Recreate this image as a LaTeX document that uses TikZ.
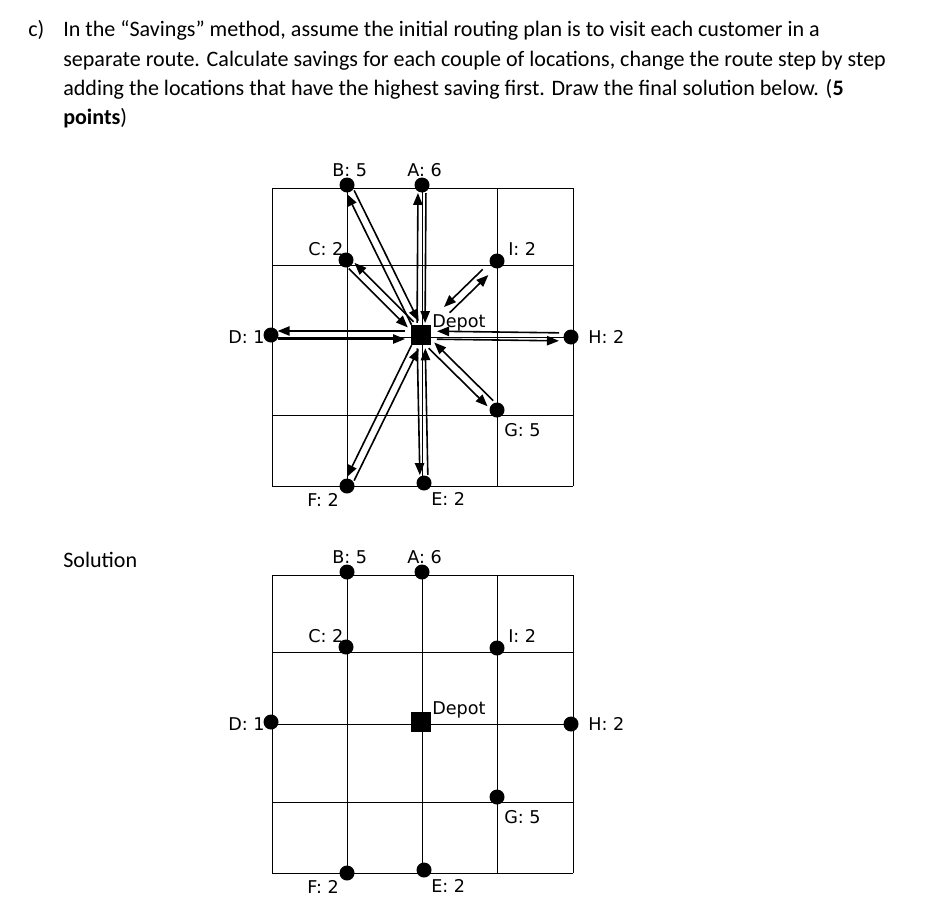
\documentclass[tikz,border=0pt]{standalone}
\usepackage{fontspec}
\setmainfont{Carlito}
\newfontfamily\lblfont{DejaVu Sans}
\usetikzlibrary{calc,arrows.meta}
\newcommand\drawmap[1]{%
  \draw[gridline] (272,575) -- (272,873) (347,575) -- (347,873) (422,575) -- (422,873)
                  (497,575) -- (497,873) (573,575) -- (573,873)
                  (272,575) -- (573,575) (272,652) -- (573,652) (272,724) -- (573,724)
                  (272,802) -- (573,802) (272,873) -- (573,873);
  \node[lbl] (#1lB) at (332,563) {B: 5};
  \node[lbl] (#1lA) at (407,563) {A: 6};
  \node[lbl] (#1lC) at (308,642) {C: 2};
  \node[lbl] (#1lI) at (508,642) {I: 2};
  \node[lbl] (#1lDep) at (432,714) {Depot};
  \node[lbl] (#1lH) at (588,730) {H: 2};
  \node[lbl] (#1lG) at (504,823) {G: 5};
  \node[lbl] (#1lF) at (307,893) {F: 2};
  \node[lbl] (#1lE) at (431,892) {E: 2};
  \node[lbl] (#1lD) at (228,730) {D: 1};
  \node[cust] (#1B) at (347,572) {};
  \node[cust] (#1A) at (422,572) {};
  \node[cust] (#1C) at (346,647) {};
  \node[cust] (#1I) at (497,648) {};
  \node[cust] (#1D) at (271,722) {};
  \node[cust] (#1H) at (571,724) {};
  \node[cust] (#1G) at (497,797) {};
  \node[cust] (#1F) at (347,873) {};
  \node[cust] (#1E) at (424,870) {};
  \node[depotbox] (#1dep) at (421,722) {};
}
% #1 customer, #2 side angle of outbound line at depot, #3 opposite angle, #4 shorten at depot, #5 shorten at customer
\newcommand\spoke[5]{%
  \draw[route,shorten <=#4,shorten >=#5] ($(tdep)!3pt!#2:(#1)$) -- ($(#1)!3pt!#3:(tdep)$);
  \draw[route,shorten <=#5,shorten >=#4] ($(#1)!3pt!#2:(tdep)$) -- ($(tdep)!3pt!#3:(#1)$);
}
\begin{document}
\begin{tikzpicture}[x=0.75pt,y=-0.75pt,
  gridline/.style={line width=0.75pt},
  cust/.style={circle,fill=black,inner sep=0pt,minimum size=11.25pt},
  depotbox/.style={rectangle,fill=black,inner sep=0pt,minimum size=15pt},
  lbl/.style={font=\lblfont\fontsize{13.2}{15}\selectfont,inner sep=0pt,anchor=base west},
  body/.style={font=\fontsize{16.55}{20}\selectfont,inner sep=0pt,anchor=base west},
  route/.style={line width=1.2pt,-{Triangle[length=9pt,width=7pt]}},
]
\useasboundingbox (0,0) rectangle (937,917);
\node[body] (qc) at (28,37) {c)};
\node[body] (q1) at (63,37) {In the “Savings” method, assume the initial routing plan is to visit each customer in a};
\node[body] (q2) at (63,66) {separate route. Calculate savings for each couple of locations, change the route step by step};
\node[body] (q3) at (63,95) {adding the locations that have the highest saving first. Draw the final solution below. (\textbf{5}};
\node[body] (q4) at (63,124) {\textbf{points})};
\node[body] (sol) at (63,567) {Solution};

\begin{scope}[shift={(0,0)}]
  \drawmap{s}
\end{scope}
\begin{scope}[shift={(0,-387)}]
  \drawmap{t}
\end{scope}
\spoke{tA}{90}{-90}{9pt}{6pt}
\spoke{tB}{90}{-90}{10pt}{6pt}
\spoke{tC}{-90}{90}{11pt}{6pt}
\spoke{tI}{-90}{90}{27pt}{12pt}
\spoke{tD}{-90}{90}{12pt}{5pt}
\spoke{tH}{-90}{90}{12pt}{9pt}
\spoke{tG}{-90}{90}{11pt}{7pt}
\spoke{tF}{-90}{90}{10pt}{6pt}
\spoke{tE}{-90}{90}{10pt}{6pt}
\end{tikzpicture}
\end{document}
